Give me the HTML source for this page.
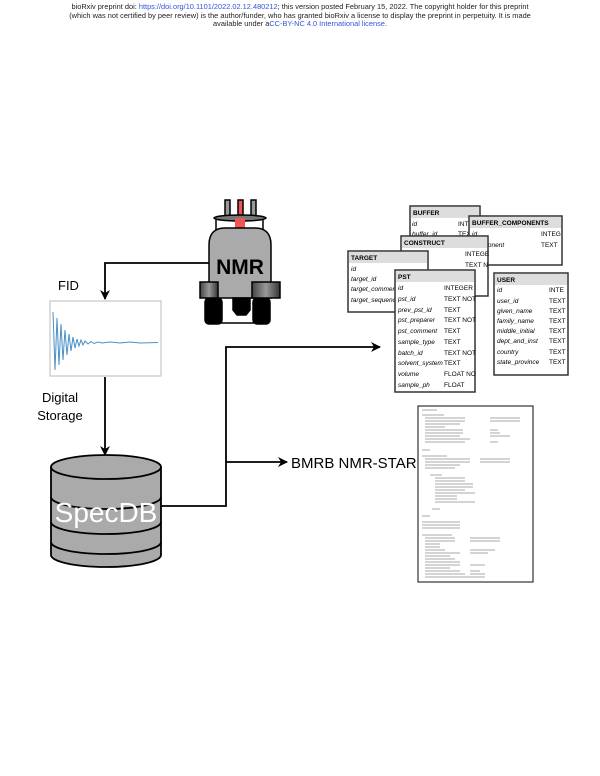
<!DOCTYPE html>
<html><head><meta charset="utf-8"><style>
body{margin:0;background:#fff;width:600px;height:776px;overflow:hidden;font-family:"Liberation Sans",sans-serif}
.hdr{position:absolute;top:3px;left:0;width:600px;text-align:center;font-size:7.4px;line-height:8.6px;color:#222}
.hdr a{color:#3355dd;text-decoration:none}
</style></head><body>
<div class="hdr">bioRxiv preprint doi: <a>https://doi.org/10.1101/2022.02.12.480212</a>; this version posted February 15, 2022. The copyright holder for this preprint<br>(which was not certified by peer review) is the author/funder, who has granted bioRxiv a license to display the preprint in perpetuity. It is made<br>available under a<a>CC-BY-NC 4.0 International license</a>.</div>
<svg width="600" height="776" style="position:absolute;left:0;top:0" font-family="Liberation Sans, sans-serif">
<defs><marker id="ar" markerWidth="10" markerHeight="10" refX="9" refY="5" orient="auto" markerUnits="userSpaceOnUse"><path d="M0,0 L10,5 L0,10 L3,5 Z" fill="#000"/></marker>
<linearGradient id="fl" x1="0" x2="1"><stop offset="0" stop-color="#444"/><stop offset="0.5" stop-color="#999"/><stop offset="1" stop-color="#333"/></linearGradient></defs>
<g stroke="#000" stroke-width="1.5">
<rect x="225" y="200" width="5" height="16" fill="#999"/><rect x="238" y="200" width="5" height="16" fill="#e55"/><rect x="251" y="200" width="5" height="16" fill="#999"/>
<line x1="216" y1="219" x2="216" y2="232"/><line x1="263" y1="219" x2="263" y2="232"/>
<ellipse cx="240" cy="218" rx="26" ry="3" fill="#777"/>
<rect x="235" y="218" width="10" height="10" fill="#e55" stroke="none"/>
<path d="M209,298 L209,245 Q209,228 225,228 L255,228 Q271,228 271,245 L271,298 Z" fill="#aaa"/>
<rect x="205" y="298" width="17" height="26" rx="4" fill="#000"/><rect x="253" y="298" width="17" height="26" rx="4" fill="#000"/>
<path d="M233,298 L250,298 L250,310 L246,315 L237,315 L233,310Z" fill="#000"/>
<line x1="220" y1="323" x2="255" y2="323"/>
<rect x="200" y="282" width="18" height="16" fill="url(#fl)"/><rect x="252" y="282" width="28" height="16" fill="url(#fl)"/>
</g>
<text x="240" y="274" font-size="21" font-weight="bold" text-anchor="middle">NMR</text>
<g stroke="#000" stroke-width="1.8" fill="none">
<path d="M209,263 L105,263 L105,299" marker-end="url(#ar)"/>
<path d="M105,377 L105,455" marker-end="url(#ar)"/>
<path d="M161,506 L226,506 L226,347 L380,347" marker-end="url(#ar)"/>
<path d="M226,462 L287,462" marker-end="url(#ar)"/>
</g>
<text x="58" y="290" font-size="13">FID</text>
<text x="60" y="402" font-size="13" text-anchor="middle">Digital</text>
<text x="60" y="420" font-size="13" text-anchor="middle">Storage</text>
<text x="291" y="468" font-size="15">BMRB NMR-STAR</text>
<rect x="50" y="301" width="111" height="75" fill="#fff" stroke="#bbb"/>
<path d="M53,312 L55,370 L57,318 L59,365 L61,324 L63,360 L65,330 L67,355 L69,334 L71,351 L73,337 L75,348 L77,339 L79,346 L81,340 L83,345 L85,341 L88,344 L91,341.5 L94,343.5 L98,342 L102,343 L110,342 L120,343 L130,342 L140,343 L158,342.5" fill="none" stroke="#4a90c8" stroke-width="1"/>
<g stroke="#000" stroke-width="1.8" fill="#aaa">
<path d="M51,467 L51,555 A55,12 0 0 0 161,555 L161,467"/>
<ellipse cx="106" cy="467" rx="55" ry="12"/>
<path d="M51,497 A55,12 0 0 0 161,497" fill="none"/>
<path d="M51,522 A55,12 0 0 0 161,522" fill="none"/>
<path d="M51,542 A55,12 0 0 0 161,542" fill="none"/>
</g>
<text x="106" y="522" font-size="28" fill="#fff" text-anchor="middle">SpecDB</text>
<rect x="418" y="406" width="115" height="176" fill="#fff" stroke="#333" stroke-width="1.2"/>
<g stroke="#aaa" stroke-width="1">
<path d="M422,410h15 M422,415h22 M425,418h40 M490,418h30 M425,421h40 M490,421h30 M425,424h35 M425,427h20 M425,430h38 M490,430h8 M425,433h38 M490,433h10 M425,436h35 M490,436h20 M425,439h45 M425,442h40 M490,442h8 M422,450h8 M422,456h25 M425,459h45 M480,459h30 M425,462h45 M480,462h30 M425,465h35 M425,468h30 M430,475h12 M435,478h30 M435,481h30 M435,484h38 M435,487h38 M435,490h30 M435,493h40 M435,496h22 M435,499h22 M435,502h40 M432,509h8 M422,516h8 M422,522h38 M422,525h38 M422,528h38 M422,535h30 M425,538h30 M470,538h30 M425,541h30 M470,541h30 M425,544h15 M425,547h15 M425,550h20 M470,550h25 M425,553h35 M470,553h18 M425,556h25 M425,559h30 M425,562h35 M425,565h35 M470,565h15 M425,568h25 M425,571h35 M470,571h10 M425,574h40 M470,574h15 M425,577h45 M470,577h15"/>
</g>
<g font-size="6.5" font-style="italic">
<g><rect x="410" y="206" width="70" height="50" fill="#fff" stroke="#333" stroke-width="1.5"/><rect x="411" y="207" width="68" height="11" fill="#ddd"/><text x="413" y="215" font-style="normal" font-weight="bold">BUFFER</text><text x="412" y="226">id</text><text x="458" y="226" font-style="normal">INTE</text><text x="412" y="236">buffer_id</text><text x="458" y="236" font-style="normal">TEXT</text></g>
<g><rect x="469" y="216" width="93" height="49" fill="#fff" stroke="#333" stroke-width="1.5"/><rect x="470" y="217" width="91" height="11" fill="#ddd"/><text x="472" y="225" font-style="normal" font-weight="bold">BUFFER_COMPONENTS</text><text x="472" y="236">id</text><text x="541" y="236" font-style="normal">INTEG</text><text x="472" y="247">component</text><text x="541" y="247" font-style="normal">TEXT</text></g>
<g><rect x="401" y="236" width="87" height="60" fill="#fff" stroke="#333" stroke-width="1.5"/><rect x="402" y="237" width="85" height="11" fill="#ddd"/><text x="404" y="245" font-style="normal" font-weight="bold">CONSTRUCT</text><text x="465" y="256" font-style="normal">INTEGE</text><text x="465" y="267" font-style="normal">TEXT N</text></g>
<g><rect x="348" y="251" width="80" height="61" fill="#fff" stroke="#333" stroke-width="1.5"/><rect x="349" y="252" width="78" height="11" fill="#ddd"/><text x="351" y="260" font-style="normal" font-weight="bold">TARGET</text><text x="351" y="271">id</text><text x="351" y="281">target_id</text><text x="351" y="291">target_comment</text><text x="351" y="302">target_sequence</text></g>
<g><rect x="395" y="270" width="80" height="122" fill="#fff" stroke="#333" stroke-width="1.5"/><rect x="396" y="271" width="78" height="11" fill="#ddd"/><text x="398" y="279" font-style="normal" font-weight="bold">PST</text>
<text x="398" y="290">id</text><text x="398" y="301">pst_id</text><text x="398" y="312">prev_pst_id</text><text x="398" y="322">pst_preparer</text><text x="398" y="333">pst_comment</text><text x="398" y="344">sample_type</text><text x="398" y="355">batch_id</text><text x="398" y="365">solvent_system</text><text x="398" y="376">volume</text><text x="398" y="387">sample_ph</text>
<g font-style="normal"><text x="444" y="290">INTEGER</text><text x="444" y="301">TEXT NOT</text><text x="444" y="312">TEXT</text><text x="444" y="322">TEXT NOT</text><text x="444" y="333">TEXT</text><text x="444" y="344">TEXT</text><text x="444" y="355">TEXT NOT</text><text x="444" y="365">TEXT</text><text x="444" y="376">FLOAT NO</text><text x="444" y="387">FLOAT</text></g></g>
<g><rect x="494" y="273" width="74" height="102" fill="#fff" stroke="#333" stroke-width="1.5"/><rect x="495" y="274" width="72" height="11" fill="#ddd"/><text x="497" y="282" font-style="normal" font-weight="bold">USER</text>
<text x="497" y="292">id</text><text x="497" y="303">user_id</text><text x="497" y="313">given_name</text><text x="497" y="323">family_name</text><text x="497" y="333">middle_initial</text><text x="497" y="343">dept_and_inst</text><text x="497" y="354">country</text><text x="497" y="364">state_province</text>
<g font-style="normal"><text x="549" y="292">INTE</text><text x="549" y="303">TEXT</text><text x="549" y="313">TEXT</text><text x="549" y="323">TEXT</text><text x="549" y="333">TEXT</text><text x="549" y="343">TEXT</text><text x="549" y="354">TEXT</text><text x="549" y="364">TEXT</text></g></g>
</g>
</svg>
</body></html>
